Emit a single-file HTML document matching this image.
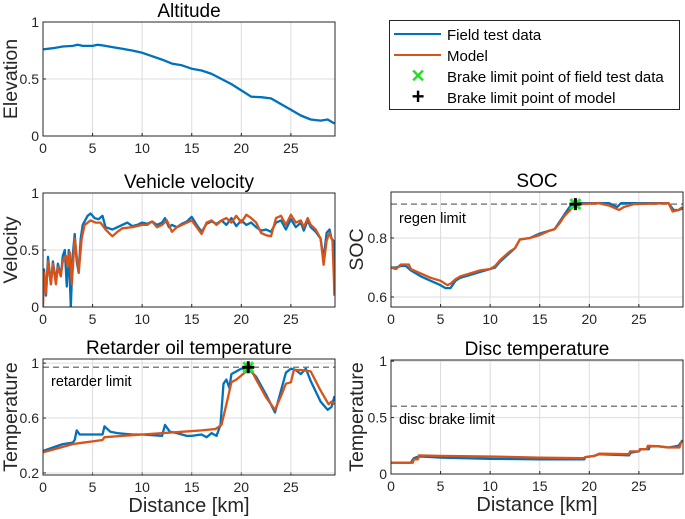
<!DOCTYPE html>
<html><head><meta charset="utf-8">
<style>
html,body{margin:0;padding:0;background:#fff;}
svg{display:block;font-family:"Liberation Sans",Arial,sans-serif;}
</style></head>
<body>
<svg id="fig" width="685" height="519" viewBox="0 0 685 519" xmlns="http://www.w3.org/2000/svg">
  <g>
    <rect x="389.5" y="20.5" width="290" height="89" fill="#fff" stroke="#262626" stroke-width="1"/>
    <line x1="394" y1="34" x2="441" y2="34" stroke="#0072BD" stroke-width="2"/>
    <text x="447" y="40" font-size="15" fill="#000">Field test data</text>
    <line x1="394" y1="55" x2="441" y2="55" stroke="#D95319" stroke-width="2"/>
    <text x="447" y="61" font-size="15" fill="#000">Model</text>
    <text x="418" y="82" font-size="18" font-weight="bold" fill="#22DD22" text-anchor="middle">✕</text>
    <text x="447" y="82" font-size="15" fill="#000">Brake limit point of field test data</text>
    <text x="418" y="104" font-size="22" font-weight="bold" fill="#000" text-anchor="middle">+</text>
    <text x="447" y="103" font-size="15" fill="#000">Brake limit point of model</text>
  </g>
</svg>
<script>
// ---------- data ----------
const altDist = [0,1,2,3,3.5,4,5,5.5,6,7,8,9,10,11,12,13,14,15,16,17,18,19,20,21,22,23,24,25,26,27,28,28.7,29.4];
const altElev = [.76,.77,.785,.79,.80,.79,.79,.80,.795,.78,.765,.75,.73,.70,.67,.635,.62,.59,.575,.545,.50,.455,.40,.345,.34,.33,.28,.23,.18,.145,.135,.145,.11];

const velFieldDist = [0,.1,.3,.5,.8,1,1.3,1.5,1.8,2,2.2,2.4,2.6,2.8,3,3.2,3.4,3.6,3.8,4,4.5,4.8,5.2,5.6,6,6.3,7,7.5,8,8.5,9,9.5,10,10.5,11,11.5,12,12.3,12.7,13,13.5,14,14.5,15,15.5,16,16.5,17,17.5,18,18.5,19,19.5,20,20.5,21,21.5,22,22.5,23,23.5,24,24.5,25,25.5,26,26.3,26.7,27,27.5,28,28.3,28.6,28.9,29.1,29.3,29.4];
const velField = [.15,.33,.1,.44,.2,.4,.22,.38,.27,.45,.5,.18,.5,0,.45,.64,.4,.3,.6,.72,.8,.82,.78,.77,.8,.7,.68,.7,.72,.74,.71,.72,.74,.73,.75,.72,.74,.78,.7,.72,.7,.73,.75,.79,.72,.66,.73,.75,.73,.76,.72,.78,.71,.76,.72,.74,.7,.67,.68,.66,.74,.76,.68,.77,.7,.74,.67,.76,.7,.66,.6,.42,.65,.68,.6,.58,.1];
const velModelDist = [0,.1,.3,.5,.8,1,1.3,1.5,1.8,2,2.3,2.5,2.7,2.9,3.2,3.6,3.9,4.2,4.8,5.3,5.8,6.3,7,7.5,8,9,10,10.5,11,11.5,12,12.5,13,13.5,14,15,15.5,16,16.5,17,17.5,18,18.5,19,19.5,20,20.5,21,21.5,22,22.5,23,23.5,24,24.5,25,25.5,26,26.3,26.7,27,27.5,28,28.3,28.6,28.9,29.2,29.4];
const velModel = [0,.3,.12,.4,.2,.38,.2,.35,.27,.4,.45,.35,.48,.2,.6,.3,.6,.72,.76,.74,.74,.68,.62,.66,.69,.7,.72,.72,.75,.7,.72,.76,.66,.7,.72,.76,.7,.64,.74,.76,.72,.76,.78,.74,.8,.74,.81,.78,.74,.65,.63,.62,.78,.8,.72,.81,.74,.76,.7,.78,.72,.68,.6,.37,.58,.65,.58,.1];

const socFieldDist = [0,.5,1,1.5,2,3,4,5,5.5,6,6.5,7,8,9,10,10.5,11,12,12.5,13,14,15,16,16.5,17,17.5,18,18.5,19,22,22.8,23.2,28,28.5,29,29.4];
const socField = [.70,.70,.705,.705,.69,.67,.655,.64,.63,.63,.655,.665,.675,.685,.695,.70,.72,.75,.765,.795,.80,.815,.825,.83,.855,.88,.905,.915,.918,.918,.905,.918,.918,.895,.895,.90];
const socModelDist = [0,.5,1,1.8,2,3,4,5,5.7,6,6.5,7,8,9,10,10.5,11,12,12.5,13,14,15,16,16.5,17,17.5,18.5,19,21,22,23,23.5,24.5,28,28.4,29,29.4];
const socModel = [.70,.695,.71,.71,.695,.68,.665,.655,.64,.645,.66,.67,.68,.69,.695,.705,.725,.755,.765,.795,.80,.81,.825,.83,.85,.875,.91,.915,.918,.91,.895,.905,.915,.918,.89,.895,.905];
const socLimit = 0.915;
const socBrakePoint = [18.6, 0.915];

const retFieldDist = [0,1,2,3,3.2,3.4,3.7,5,6,6.2,6.8,7.5,9,10,12,12.3,12.8,13.5,14.5,15,16,16.5,17,17.5,17.9,18.2,18.5,18.8,19,20,20.7,21.5,22.5,23.4,24,24.5,25,25.5,26,26.5,27,28,28.7,29.1,29.4];
const retField = [.36,.385,.41,.42,.44,.51,.48,.48,.48,.54,.5,.49,.48,.48,.47,.55,.5,.49,.47,.47,.48,.46,.49,.47,.55,.85,.88,.82,.92,.96,.96,.9,.77,.64,.8,.93,.96,.95,.92,.96,.87,.72,.66,.68,.76];
const retModelDist = [0,1,2,3,4,5,6,6.2,8,10,12,14,16,17.4,18,18.5,19,19.5,20,20.5,21,21.5,22.5,23.4,24,24.5,25,25.3,26,27,28,28.8,29.1,29.4];
const retModel = [.35,.37,.39,.41,.42,.43,.44,.46,.47,.48,.49,.50,.51,.52,.55,.7,.86,.88,.91,.94,.95,.88,.75,.66,.76,.85,.86,.95,.95,.94,.8,.7,.72,.7];
const retLimit = 0.97;
const retBrakePoint = [20.7, 0.97];

const discFieldDist = [0,2,2.3,2.6,3,5,10,15,19.5,19.6,20.5,21,24,24.2,25,25.2,26,26.1,27,28,29,29.4];
const discField = [.10,.10,.14,.15,.155,.145,.135,.13,.13,.15,.16,.175,.165,.19,.2,.22,.22,.245,.245,.235,.25,.3];
const discModelDist = [0,2.2,2.3,2.7,2.8,5,10,15,19.4,19.6,20.5,21,24,24.1,25,25.1,25.8,25.9,27,28,29.1,29.3];
const discModel = [.10,.10,.13,.13,.165,.16,.155,.145,.14,.15,.16,.18,.175,.2,.2,.22,.22,.25,.245,.235,.235,.29];
const discLimit = 0.6;

const xTicks = [0,5,10,15,20,25];
const altYTicks = [0,0.5,1];
const velYTicks = [0,0.5,1];
const socYTicks = [0.6,0.8];
const retYTicks = [0.2,0.6,1];
const discYTicks = [0,0.5,1];

// ---------- drawing ----------
const NS = 'http://www.w3.org/2000/svg';
const svg = document.getElementById('fig');
function mk(tag, attrs, parent){
  const e = document.createElementNS(NS, tag);
  for (const k in attrs) e.setAttribute(k, attrs[k]);
  (parent||svg).appendChild(e);
  return e;
}
function panel(o){
  const g = mk('g', {});
  
  
  const sx = v => o.x0 + (v - o.xmin) / (o.xmax - o.xmin) * (o.x1 - o.x0);
  const sy = v => o.y1 - (v - o.ymin) / (o.ymax - o.ymin) * (o.y1 - o.y0);
  mk('rect', {x:o.x0, y:o.y0, width:o.x1-o.x0, height:o.y1-o.y0, fill:'#fff'}, g);
  o.xt.forEach(t => {
    const gl = mk('line', {x1:sx(t), x2:sx(t), y1:o.y0, y2:o.y1, stroke:'#dcdcdc', 'stroke-width':1}, g);
    
    
    const tl = mk('text', {x:sx(t), y:o.y1+17, 'font-size':14, 'text-anchor':'middle', fill:'#262626'}, g);
    
    
    tl.textContent = t;
    mk('line', {x1:sx(t), x2:sx(t), y1:o.y1, y2:o.y1-3, stroke:'#262626'}, g);
  });
  o.yt.forEach(t => {
    const gl = mk('line', {x1:o.x0, x2:o.x1, y1:sy(t), y2:sy(t), stroke:'#dcdcdc', 'stroke-width':1}, g);
    
    
    const tl = mk('text', {x:o.x0-4, y:sy(t)+5, 'font-size':14, 'text-anchor':'end', fill:'#262626'}, g);
    
    
    tl.textContent = t;
    mk('line', {x1:o.x0, x2:o.x0+3, y1:sy(t), y2:sy(t), stroke:'#262626'}, g);
  });
  if (o.limit !== undefined){
    const ll = mk('line', {x1:o.x0, x2:o.x1, y1:sy(o.limit), y2:sy(o.limit), stroke:'#808080', 'stroke-width':1.5, 'stroke-dasharray':'6,4'}, g);
    
    
    const lt = mk('text', {x:o.x0+8, y:o.limitLabelY, 'font-size':14.5, fill:'#000'}, g);
    
    
    lt.textContent = o.limitLabel;
  }
  const cid = 'c' + o.name;
  const cp = mk('clipPath', {id:cid}, g);
  mk('rect', {x:o.x0, y:o.y0, width:o.x1-o.x0, height:o.y1-o.y0}, cp);
  o.series.forEach(s => {
    const d = s.x.map((v,i) => (i?'L':'M') + sx(v).toFixed(1) + ',' + sy(s.y[i]).toFixed(1)).join('');
    const p = mk('path', {d:d, fill:'none', stroke:s.color, 'stroke-width':2.3, 'stroke-linejoin':'round', 'clip-path':'url(#'+cid+')'}, g);
    
    
  });
  if (o.point){
    const px = sx(o.point[0]), py = sy(o.point[1]);
    const xm = mk('path', {d:`M${px-5},${py-5}L${px+5},${py+5}M${px-5},${py+5}L${px+5},${py-5}`, stroke:'#22EE22', 'stroke-width':3}, g);
    
    
    const pm = mk('path', {d:`M${px-6},${py}L${px+6},${py}M${px},${py-6}L${px},${py+6}`, stroke:'#000', 'stroke-width':3}, g);
    
    
  }
  mk('rect', {x:o.x0, y:o.y0, width:o.x1-o.x0, height:o.y1-o.y0, fill:'none', stroke:'#262626', 'stroke-width':1}, g);
  const tt = mk('text', {x:(o.x0+o.x1)/2, y:o.y0-5, 'font-size':19, 'text-anchor':'middle', fill:'#000'}, g);
  
  
  tt.textContent = o.title;
  const cy = (o.y0+o.y1)/2;
  const yl = mk('text', {x:0, y:0, 'font-size':19.5, 'text-anchor':'middle', fill:'#262626', transform:`translate(${o.yLabelX},${cy}) rotate(-90)`}, g);
  
  
  yl.textContent = o.ylabel;
  if (o.xlabel){
    const xl = mk('text', {x:(o.x0+o.x1)/2, y:o.y1+37, 'font-size':20, 'text-anchor':'middle', fill:'#262626'}, g);
    
    
    xl.textContent = o.xlabel;
  }
}
const BLUE = '#0072BD', ORANGE = '#D95319';
const L = {x0:43, x1:335}, R = {x0:391, x1:683};
const XMAX = 29.45;
panel({name:'altitude-panel', title:'Altitude', ylabel:'Elevation', x0:L.x0, x1:L.x1, y0:22, y1:136, xmin:0, xmax:XMAX, ymin:0, ymax:1, xt:xTicks, yt:altYTicks, yLabelX:17,
  series:[{name:'altitude-line', x:altDist, y:altElev, color:BLUE}]});
panel({name:'velocity-panel', title:'Vehicle velocity', ylabel:'Velocity', x0:L.x0, x1:L.x1, y0:193, y1:307, xmin:0, xmax:XMAX, ymin:0, ymax:1, xt:xTicks, yt:velYTicks, yLabelX:17,
  series:[{name:'velocity-field-line', x:velFieldDist, y:velField, color:BLUE},{name:'velocity-model-line', x:velModelDist, y:velModel, color:ORANGE}]});
panel({name:'soc-panel', title:'SOC', ylabel:'SOC', x0:R.x0, x1:R.x1, y0:192, y1:307, xmin:0, xmax:XMAX, ymin:0.566, ymax:0.956, xt:xTicks, yt:socYTicks, yLabelX:363,
  limit:socLimit, limitLabel:'regen limit', limitLabelY:223, point:socBrakePoint,
  series:[{name:'soc-field-line', x:socFieldDist, y:socField, color:BLUE},{name:'soc-model-line', x:socModelDist, y:socModel, color:ORANGE}]});
panel({name:'retarder-panel', title:'Retarder oil temperature', ylabel:'Temperature', x0:L.x0, x1:L.x1, y0:359, y1:475, xmin:0, xmax:XMAX, ymin:0.185, ymax:1.03, xt:xTicks, yt:retYTicks, yLabelX:17, xlabel:'Distance [km]',
  limit:retLimit, limitLabel:'retarder limit', limitLabelY:386, point:retBrakePoint,
  series:[{name:'retarder-field-line', x:retFieldDist, y:retField, color:BLUE},{name:'retarder-model-line', x:retModelDist, y:retModel, color:ORANGE}]});
panel({name:'disc-panel', title:'Disc temperature', ylabel:'Temperature', x0:R.x0, x1:R.x1, y0:360, y1:474, xmin:0, xmax:XMAX, ymin:0, ymax:1.01, xt:xTicks, yt:discYTicks, yLabelX:363, xlabel:'Distance [km]',
  limit:discLimit, limitLabel:'disc brake limit', limitLabelY:424,
  series:[{name:'disc-field-line', x:discFieldDist, y:discField, color:BLUE},{name:'disc-model-line', x:discModelDist, y:discModel, color:ORANGE}]});
</script>
</body></html>
